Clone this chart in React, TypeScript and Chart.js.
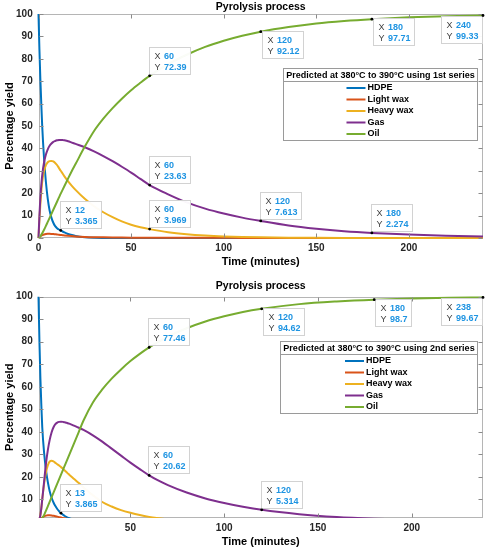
import React, { useEffect, useRef } from 'react';
import { Chart, registerables } from 'chart.js';

Chart.register(...registerables);

const FONT = '"Liberation Sans", Arial, Helvetica, sans-serif';

const seriesNames = ['HDPE', 'Light wax', 'Heavy wax', 'Gas', 'Oil'];
const seriesColors = ['#0072BD', '#D95319', '#EDB120', '#7E2F8E', '#77AC30'];

// ---------- Panel 1 (1st series) ----------
const time1 = [0, 0.5, 1, 1.5, 2, 3, 4, 5, 6, 7, 8, 9, 10, 11, 12, 13, 14, 16, 18, 20, 25, 30, 35, 40, 45, 50, 55, 60, 70, 80, 90, 100, 110, 120, 135, 150, 165, 180, 200, 220, 240];
const hdpe1 = [100, 84, 71, 60, 50, 35.5, 25, 17.5, 12.3, 9, 6.8, 5.3, 4.4, 3.8, 3.365, 2.9, 2.5, 1.8, 1.3, 0.9, 0.35, 0.12, 0.04, 0.01, 0, 0, 0, 0, 0, 0, 0, 0, 0, 0, 0, 0, 0, 0, 0, 0, 0];
const lightWax1 = [0, 0.45, 0.8, 1.1, 1.3, 1.6, 1.78, 1.85, 1.87, 1.83, 1.76, 1.66, 1.56, 1.45, 1.35, 1.25, 1.15, 0.98, 0.84, 0.72, 0.5, 0.36, 0.28, 0.22, 0.18, 0.15, 0.13, 0.12, 0.1, 0.08, 0.07, 0.06, 0.05, 0.05, 0.04, 0.03, 0.03, 0.02, 0.02, 0.01, 0.01];
const heavyWax1 = [0, 8, 15, 20.5, 25, 30, 32.5, 33.8, 34.3, 34.4, 34.2, 33.5, 32.6, 31.3, 30, 28.8, 27.5, 25.3, 23.3, 21.5, 17.5, 14.2, 11.5, 9.3, 7.4, 5.9, 4.8, 3.969, 2.6, 1.7, 1.1, 0.7, 0.45, 0.3, 0.16, 0.08, 0.04, 0.02, 0.01, 0, 0];
const gas1 = [0, 10, 18, 23.5, 28, 33.8, 37.3, 39.6, 41.2, 42.2, 42.9, 43.3, 43.6, 43.75, 43.8, 43.75, 43.6, 43.2, 42.6, 42, 40.5, 38.7, 36.6, 34.3, 31.8, 29.2, 26.4, 23.63, 19.5, 15.9, 13.1, 10.9, 9.1, 7.613, 5.6, 4.15, 3.05, 2.274, 1.55, 1.05, 0.72];
const oil1 = [0, 0.3, 0.8, 1.4, 2.1, 3.7, 5.4, 7.2, 9, 10.8, 12.6, 14.4, 16.2, 18, 19.8, 21.5, 23.2, 26.6, 29.9, 33, 40.8, 47.8, 53.3, 58, 62.2, 66, 69.3, 72.39, 77.6, 81.8, 85.3, 88.05, 90.3, 92.12, 94.2, 95.8, 96.9, 97.71, 98.5, 99.0, 99.33];
const xTicks1 = [0, 50, 100, 150, 200];
const yTicks1 = [0, 10, 20, 30, 40, 50, 60, 70, 80, 90, 100];
const tipX1 = [60, 120, 180, 240, 60, 60, 12, 120, 180];
const tipY1 = [72.39, 92.12, 97.71, 99.33, 23.63, 3.969, 3.365, 7.613, 2.274];
const legendTitle1 = 'Predicted at 380°C to 390°C using 1st series';

// ---------- Panel 2 (2nd series) ----------
const time2 = [1, 1.5, 2, 2.5, 3, 4, 5, 6, 7, 8, 9, 10, 11, 12, 13, 14, 15, 16, 17, 18, 20, 22.5, 25, 30, 35, 40, 45, 50, 55, 60, 64, 70, 80, 90, 100, 110, 120, 140, 160, 180, 200, 220, 238];
const hdpe2 = [100, 80, 64, 52, 42, 30.5, 23, 17.5, 13.5, 10.7, 8.6, 7, 5.7, 4.7, 3.865, 3.2, 2.6, 2.1, 1.7, 1.4, 0.9, 0.55, 0.3, 0.1, 0.04, 0.01, 0, 0, 0, 0, 0, 0, 0, 0, 0, 0, 0, 0, 0, 0, 0, 0, 0];
const lightWax2 = [0, 0.6, 1.2, 1.6, 1.9, 2.4, 2.75, 2.9, 2.92, 2.85, 2.7, 2.5, 2.3, 2.1, 1.9, 1.7, 1.55, 1.4, 1.25, 1.1, 0.9, 0.7, 0.5, 0.3, 0.2, 0.14, 0.1, 0.08, 0.06, 0.05, 0.04, 0.03, 0.02, 0.02, 0.01, 0.01, 0.01, 0, 0, 0, 0, 0, 0];
const heavyWax2 = [0, 1.2, 3, 6, 10, 17, 22, 25.2, 26.8, 27.1, 26.8, 26.2, 25.6, 25, 24.3, 23.6, 22.8, 22, 21.2, 20.5, 19, 17.2, 15.3, 11.8, 8.8, 6.8, 5.2, 4, 3, 2.2, 1.7, 1.1, 0.6, 0.3, 0.15, 0.08, 0.04, 0.01, 0, 0, 0, 0, 0];
const gas2 = [0, 1.2, 3, 6, 10, 18, 26, 32, 36.5, 39.8, 42, 43.4, 44.1, 44.4, 44.5, 44.4, 44.2, 44, 43.7, 43.4, 42.7, 41.8, 40.8, 38.4, 35.6, 32.5, 29.4, 26.3, 23.4, 20.62, 18.7, 16.3, 13, 10.4, 8.4, 6.7, 5.314, 3.4, 2.15, 1.4, 0.9, 0.6, 0.4];
const oil2 = [0, 0.2, 0.6, 1.1, 1.7, 3.1, 5, 7, 9, 11, 13, 15, 17, 19, 21, 23, 25, 27, 29, 31, 35, 40, 45, 53, 58.8, 63.6, 67.7, 71.4, 74.6, 77.46, 79.5, 82.3, 86, 89, 91.3, 93.2, 94.62, 96.7, 97.9, 98.7, 99.2, 99.51, 99.67];
const xTicks2 = [50, 100, 150, 200];
const yTicks2 = [10, 20, 30, 40, 50, 60, 70, 80, 90, 100];
const tipX2 = [60, 120, 180, 238, 60, 13, 120];
const tipY2 = [77.46, 94.62, 98.7, 99.67, 20.62, 3.865, 5.314];
const legendTitle2 = 'Predicted at 380°C to 390°C using 2nd series';

// placement of each data tip box relative to its point (layout only)
const tipPlace1 = ['ur', 'dr', 'dr', 'dl', 'ur', 'ur', 'ur', 'ur', 'ur'];
const tipPlace2 = ['ur', 'dr', 'dr', 'dl', 'ur', 'ur', 'ur'];

type Panel = {
  time: number[];
  series: number[][];
  xMin: number;
  xMax: number;
  yMin: number;
  yMax: number;
  xTicks: number[];
  yTicks: number[];
  tipX: number[];
  tipY: number[];
  tipPlace: string[];
  legendTitle: string;
  padTop: number;
  titleGap: number;
  legendTop: number;
  clipBottom: number;
};

const panel1: Panel = {
  time: time1,
  series: [hdpe1, lightWax1, heavyWax1, gas1, oil1],
  xMin: 0, xMax: 240, yMin: 0, yMax: 100,
  xTicks: xTicks1, yTicks: yTicks1,
  tipX: tipX1, tipY: tipY1, tipPlace: tipPlace1,
  legendTitle: legendTitle1,
  padTop: 14, titleGap: 6.7, legendTop: 54.3, clipBottom: 2,
};

const panel2: Panel = {
  time: time2,
  series: [hdpe2, lightWax2, heavyWax2, gas2, oil2],
  xMin: 1, xMax: 238, yMin: 1.7, yMax: 100,
  xTicks: xTicks2, yTicks: yTicks2,
  tipX: tipX2, tipY: tipY2, tipPlace: tipPlace2,
  legendTitle: legendTitle2,
  padTop: 26.7, titleGap: 10.7, legendTop: 44, clipBottom: 0,
};

function boxCoords(a: any) {
  return {
    L: Math.round(a.left) + 0.5,
    R: Math.round(a.right) - 0.5,
    T: Math.round(a.top) + 0.5,
    B: Math.round(a.bottom) - 0.5,
  };
}

function decorPlugin(p: Panel) {
  return {
    id: 'decor',
    beforeDatasetsDraw(chart: any) {
      const { ctx, chartArea: a } = chart;
      const { L, R, T, B } = boxCoords(a);
      ctx.save();
      ctx.strokeStyle = '#b5b5b5';
      ctx.lineWidth = 1;
      ctx.strokeRect(L, T, R - L, B - T);
      ctx.restore();
    },
    afterDatasetsDraw(chart: any) {
      const { ctx, chartArea: a, scales } = chart;
      const xs = scales.x;
      const ys = scales.y;
      const { L, R, T, B } = boxCoords(a);
      ctx.save();
      // inward tick marks
      ctx.strokeStyle = '#8a8a8a';
      ctx.lineWidth = 1;
      ctx.beginPath();
      xs.ticks.forEach((t: any) => {
        const px = Math.round(xs.getPixelForValue(t.value)) + 0.5;
        ctx.moveTo(px, B); ctx.lineTo(px, B - 4);
        ctx.moveTo(px, T); ctx.lineTo(px, T + 4);
      });
      ys.ticks.forEach((t: any) => {
        const py = Math.round(ys.getPixelForValue(t.value)) + 0.5;
        ctx.moveTo(L, py); ctx.lineTo(L + 4, py);
        ctx.moveTo(R, py); ctx.lineTo(R - 4, py);
      });
      ctx.stroke();

      // title
      ctx.fillStyle = '#000000';
      ctx.font = `bold 10.5px ${FONT}`;
      ctx.textAlign = 'center';
      ctx.textBaseline = 'middle';
      ctx.fillText('Pyrolysis process', (a.left + a.right) / 2, a.top - p.titleGap);

      // data tips
      p.tipX.forEach((tx, i) => {
        const ty = p.tipY[i];
        const px = xs.getPixelForValue(tx);
        const py = ys.getPixelForValue(ty);
        const xv = String(tx);
        const yv = String(ty);
        ctx.font = `9px ${FONT}`;
        const lw = Math.max(ctx.measureText('X ').width, ctx.measureText('Y ').width);
        ctx.font = `bold 9px ${FONT}`;
        const vw = Math.max(ctx.measureText(xv).width, ctx.measureText(yv).width);
        const w = Math.round(5 + lw + 1 + vw + 4);
        const h = 27;
        let bx = px - 1, by = py - 2 - h;
        const place = p.tipPlace[i];
        if (place === 'dr') { bx = px + 1; by = py - 1; }
        if (place === 'dl') { bx = px - 1 - w; by = py + 0.5; }
        bx = Math.round(bx) + 0.5; by = Math.round(by) + 0.5;
        ctx.fillStyle = 'rgba(255,255,255,0.96)';
        ctx.fillRect(bx, by, w, h);
        ctx.strokeStyle = '#d2d2d2';
        ctx.lineWidth = 1;
        ctx.strokeRect(bx, by, w, h);
        ctx.textAlign = 'left';
        ctx.textBaseline = 'middle';
        ctx.font = `9px ${FONT}`;
        ctx.fillStyle = '#404040';
        ctx.fillText('X', bx + 5, by + 9.5);
        ctx.fillText('Y', bx + 5, by + 20.5);
        ctx.font = `bold 9px ${FONT}`;
        ctx.fillStyle = '#1e94e2';
        ctx.fillText(xv, bx + 5 + lw + 1, by + 9.5);
        ctx.fillText(yv, bx + 5 + lw + 1, by + 20.5);
        ctx.fillStyle = '#000000';
        ctx.beginPath();
        ctx.arc(px, py, 1.4, 0, Math.PI * 2);
        ctx.fill();
      });

      // legend
      ctx.font = `bold 9px ${FONT}`;
      const titleW = ctx.measureText(p.legendTitle).width;
      const lgW = Math.round(titleW + 6);
      const lgH = 72;
      const lgR = Math.round(a.right) - 6;
      const lgL = lgR - lgW;
      const lgT = Math.round(a.top + p.legendTop);
      ctx.fillStyle = '#ffffff';
      ctx.fillRect(lgL + 0.5, lgT + 0.5, lgW, lgH);
      ctx.strokeStyle = '#9a9a9a';
      ctx.lineWidth = 1;
      ctx.strokeRect(lgL + 0.5, lgT + 0.5, lgW, lgH);
      ctx.beginPath();
      ctx.moveTo(lgL + 0.5, lgT + 13.5);
      ctx.lineTo(lgL + lgW + 0.5, lgT + 13.5);
      ctx.stroke();
      ctx.fillStyle = '#000000';
      ctx.textAlign = 'center';
      ctx.textBaseline = 'middle';
      ctx.fillText(p.legendTitle, lgL + lgW / 2 + 0.5, lgT + 7.5);
      const maxTextW = Math.max(...seriesNames.map((n) => ctx.measureText(n).width));
      const blockW = 19 + 2 + maxTextW;
      const blockL = lgL + lgW / 2 - blockW / 2;
      seriesNames.forEach((n, i) => {
        const iy = lgT + 20 + i * 11.5;
        ctx.strokeStyle = seriesColors[i];
        ctx.lineWidth = 2;
        ctx.beginPath();
        ctx.moveTo(blockL, iy);
        ctx.lineTo(blockL + 19, iy);
        ctx.stroke();
        ctx.fillStyle = '#000000';
        ctx.textAlign = 'left';
        ctx.fillText(n, blockL + 21, iy);
      });
      ctx.restore();
    },
  };
}

function buildConfig(p: Panel): any {
  const tickFont = { family: FONT, size: 10, weight: 'bold' as const };
  const titleFont = { family: FONT, size: 11, weight: 'bold' as const };
  return {
    type: 'line',
    data: {
      datasets: p.series.map((vals, si) => ({
        label: seriesNames[si],
        data: p.time.map((t, k) => ({ x: t, y: vals[k] })),
        borderColor: seriesColors[si],
        backgroundColor: seriesColors[si],
        borderWidth: 2,
        pointRadius: 0,
        fill: false,
        cubicInterpolationMode: 'monotone',
        order: 5 - si,
        clip: { left: 3, top: 3, right: 3, bottom: p.clipBottom },
      })),
    },
    options: {
      responsive: false,
      animation: false,
      events: [],
      layout: { padding: { top: p.padTop, right: 6, left: 0, bottom: 0 } },
      plugins: {
        legend: { display: false },
        tooltip: { enabled: false },
        title: { display: false },
      },
      scales: {
        x: {
          type: 'linear',
          bounds: 'data',
          min: p.xMin,
          max: p.xMax,
          afterBuildTicks: (s: any) => { s.ticks = p.xTicks.map((v) => ({ value: v })); },
          afterFit: (s: any) => { s.height = 32; },
          grid: { display: false, drawTicks: false },
          border: { display: false },
          ticks: {
            padding: 4.5, color: '#262626', font: tickFont, maxRotation: 0, autoSkip: false,
            callback: (v: any) => String(v),
          },
          title: {
            display: true, text: 'Time (minutes)', color: '#000000', font: titleFont,
            padding: { top: 0, bottom: 1.7 },
          },
        },
        y: {
          type: 'linear',
          bounds: 'data',
          min: p.yMin,
          max: p.yMax,
          afterBuildTicks: (s: any) => { s.ticks = p.yTicks.map((v) => ({ value: v })); },
          afterFit: (s: any) => { s.width = 38.5; },
          grid: { display: false, drawTicks: false },
          border: { display: false },
          ticks: {
            padding: 5.8, color: '#262626', font: tickFont, autoSkip: false,
            callback: (v: any) => String(v),
          },
          title: {
            display: true, text: 'Percentage yield', color: '#000000', font: titleFont,
            padding: { top: 3.4, bottom: 0 },
          },
        },
      },
    },
    plugins: [decorPlugin(p)],
  };
}

function PanelChart({ panel, top, height }: { panel: Panel; top: number; height: number }) {
  const ref = useRef<HTMLCanvasElement>(null);
  useEffect(() => {
    if (!ref.current) return;
    const chart = new Chart(ref.current, buildConfig(panel));
    return () => chart.destroy();
  }, [panel]);
  return (
    <div style={{ position: 'absolute', left: 0, top, width: 489, height }}>
      <canvas ref={ref} width={489} height={height} style={{ display: 'block', width: 489, height }} />
    </div>
  );
}

export default function App() {
  return (
    <div style={{ position: 'absolute', left: 0, top: 0, width: 489, height: 550, background: '#ffffff' }}>
      <PanelChart panel={panel1} top={0} height={270} />
      <PanelChart panel={panel2} top={270} height={280} />
    </div>
  );
}
